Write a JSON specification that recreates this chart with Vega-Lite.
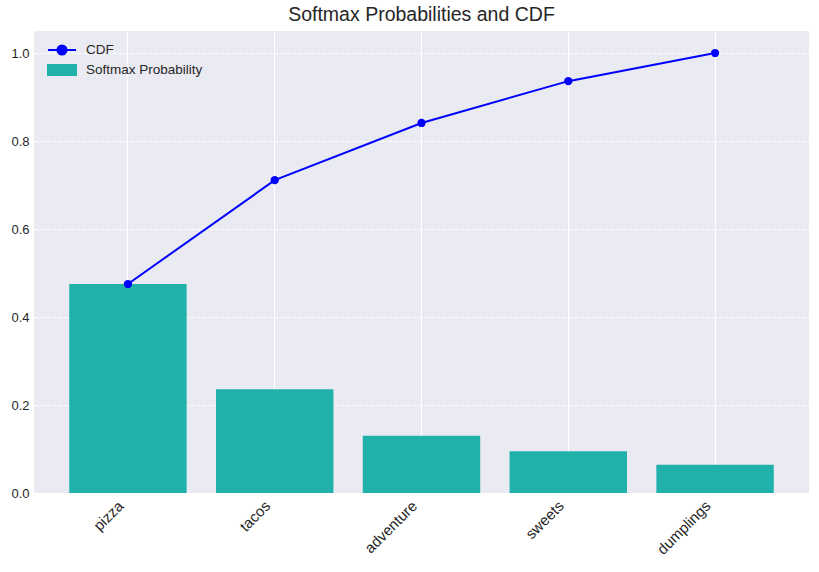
{
  "$schema": "https://vega.github.io/schema/vega-lite/v6.json",
  "width": 775,
  "height": 462,
  "autosize": {"type": "none"},
  "padding": {"left": 34, "top": 31, "right": 10, "bottom": 79},
  "background": "white",
  "title": {"text": "Softmax Probabilities and CDF", "fontSize": 19.5, "font": "Liberation Sans", "fontWeight": "normal", "color": "#262626", "offset": 6, "anchor": "middle"},
  "config": {
    "view": {"fill": "#EAEAF2", "stroke": null},
    "font": "Liberation Sans"
  },
  "data": {
    "values": [
      {"category": "pizza", "prob": 0.475, "cdf": 0.475},
      {"category": "tacos", "prob": 0.236, "cdf": 0.711},
      {"category": "adventure", "prob": 0.130, "cdf": 0.841},
      {"category": "sweets", "prob": 0.095, "cdf": 0.936},
      {"category": "dumplings", "prob": 0.064, "cdf": 1.0}
    ]
  },
  "encoding": {
    "x": {
      "field": "category", "type": "nominal", "sort": null,
      "scale": {"paddingInner": 0.2, "paddingOuter": 0.24},
      "axis": {
        "title": null, "labelAngle": -45, "labelAlign": "right", "labelBaseline": "middle",
        "labelFontSize": 15, "labelColor": "#262626", "labelPadding": 10, "labelOffset": -7,
        "ticks": false, "domain": false, "grid": true, "gridColor": "white", "gridWidth": 1,
        "bandPosition": 0.5, "zindex": 0
      }
    }
  },
  "layer": [
    {
      "mark": {"type": "bar", "color": "#20B2AA"},
      "encoding": {
        "y": {
          "field": "prob", "type": "quantitative",
          "scale": {"domain": [0, 1.05], "nice": false},
          "axis": {
            "title": null, "values": [0, 0.2, 0.4, 0.6, 0.8, 1.0], "format": ".1f",
            "labelFontSize": 13, "labelColor": "#262626", "labelPadding": 5,
            "ticks": false, "domain": false, "grid": true, "gridColor": "white",
            "gridDash": [4, 2], "gridWidth": 1, "zindex": 0
          }
        },
        "color": {
          "datum": "Softmax Probability",
          "scale": {"domain": ["CDF", "Softmax Probability"], "range": ["#0000FF", "#20B2AA"]},
          "legend": {
            "title": null, "orient": "none", "legendX": 20, "legendY": 11,
            "padding": 0, "symbolSize": 196, "labelFontSize": 13.5, "labelColor": "#262626",
            "labelOffset": 16, "rowPadding": 2,
            "encode": {
              "symbols": {
                "update": {
                  "shape": {"signal": "datum.value === 'CDF' ? 'M-2,0H2M-0.65,0A0.65,0.65 0 1,0 0.65,0A0.65,0.65 0 1,0 -0.65,0Z' : 'M-2,-0.7H2V0.7H-2Z'"},
                  "fill": {"signal": "datum.value === 'CDF' ? '#0000FF' : '#20B2AA'"},
                  "stroke": {"signal": "datum.value === 'CDF' ? '#0000FF' : 'transparent'"},
                  "strokeWidth": {"value": 2},
                  "opacity": {"value": 1}
                }
              }
            }
          }
        }
      }
    },
    {
      "mark": {"type": "line", "color": "#0000FF", "strokeWidth": 2},
      "encoding": {
        "y": {"field": "cdf", "type": "quantitative"},
        "color": {"datum": "CDF"}
      }
    },
    {
      "mark": {"type": "point", "filled": true, "size": 68, "opacity": 1, "color": "#0000FF"},
      "encoding": {
        "y": {"field": "cdf", "type": "quantitative"},
        "color": {"datum": "CDF"}
      }
    }
  ]
}
